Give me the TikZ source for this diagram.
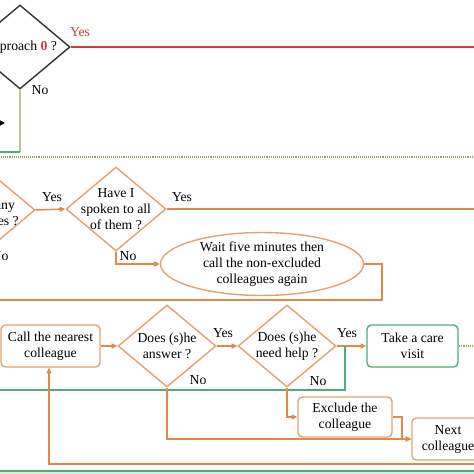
\documentclass[tikz,border=0pt]{standalone}
\usepackage{fontspec}
\setmainfont{Liberation Serif}
\usetikzlibrary{shapes.geometric,arrows.meta}

\definecolor{flow}{RGB}{226,137,74}
\definecolor{flowlight}{RGB}{226,162,112}
\definecolor{okgreen}{RGB}{76,174,120}
\definecolor{paleg}{RGB}{208,238,216}
\definecolor{alert}{RGB}{205,62,62}
\definecolor{olivedot}{RGB}{150,165,90}
\definecolor{khaki}{RGB}{205,190,150}

\tikzset{
  txt/.style={font=\fontsize{7.8}{9.1}\selectfont, align=center, inner sep=0pt},
  dia/.style={diamond, draw=flowlight, line width=0.8pt, minimum width=2cm,
              minimum height=1.68cm, inner sep=0pt},
  smalldia/.style={dia, minimum width=1.96cm, minimum height=1.64cm},
  box/.style={txt, draw=flowlight, rounded corners=2.5pt, line width=0.8pt,
              minimum height=0.84cm},
  oval/.style={ellipse, draw=flowlight, line width=0.8pt, inner sep=0pt},
  conn/.style={draw=flow, line width=0.85pt},
  arr/.style={conn, -{Triangle[length=3.2pt,width=2.8pt]}},
  greenline/.style={draw=okgreen, line width=0.9pt},
  dotline/.style={draw=olivedot, line width=0.8pt, dash pattern=on 0.55pt off 0.55pt},
}

\begin{document}
\begin{tikzpicture}[x=0.02cm, y=-0.02cm]
  \useasboundingbox (0,0) rectangle (474,474);
  \fill[white] (0,0) rectangle (474,474);
  \clip (0,0) rectangle (474,474);

  % ---- top block: approach 0 ----
  \node[dia, draw=black!80] (q0) at (20,47) {};
  \node[txt] (q0t) at (q0) {Approach \textcolor{alert}{\textbf{0}} ?};
  \coordinate (q0out) at (480,47);
  \draw[alert, line width=1.3pt] (q0.east) -- (q0out);
  \node[txt, text=alert] (q0yes) at (80,32) {Yes};
  \node[txt] (q0no) at (40,90) {No};
  \coordinate (q0turn) at (20,152);
  \coordinate (q0end) at (-5,152);
  \draw[khaki, line width=0.8pt] (q0.south) -- (q0turn);
  \draw[okgreen, line width=1pt] (q0turn) -- (q0end);
  \coordinate (inA) at (-12,123);
  \coordinate (inB) at (5,123);
  \draw[line width=0.8pt, -{Triangle[length=3pt,width=3pt]}] (inA) -- (inB);

  \coordinate (sepA) at (-5,157);
  \coordinate (sepB) at (480,157);
  \draw[dotline] (sepA) -- (sepB);

  % ---- middle block: colleagues reached ----
  \node[dia] (q1) at (-15,210) {};
  \node[txt] (q1t) at (-15,214.5) {have many\\colleagues ?};
  \node[txt] (q1no) at (0,256) {No};
  \node[dia] (q2) at (116,209) {};
  \node[txt] (q2t) at (q2) {Have I\\spoken to all\\of them ?};
  \draw[arr] (q1.east) -- (q2.west);
  \node[txt] (q1yes) at (52,197) {Yes};
  \node[txt] (q2yes) at (182,197) {Yes};
  \coordinate (q2out) at (480,209);
  \draw[conn] (q2.east) -- (q2out);
  \node[txt] (q2no) at (128,256) {No};

  \node[oval, minimum width=4.06cm, minimum height=1.26cm] (wait) at (262,264) {};
  \node[txt] (waitt) at (wait) {Wait five minutes then\\call the non-excluded\\colleagues again};
  \draw[arr] (q2.south) |- (wait.west);
  \coordinate (waitR) at (382,300);
  \coordinate (waitL) at (-5,300);
  \draw[conn] (wait.east) -| (waitR) -- (waitL);

  % ---- bottom block: calling loop ----
  \node[box, minimum width=1.98cm] (call) at (50.5,346) {Call the nearest\\colleague};
  \node[smalldia] (q3) at (167,346) {};
  \node[txt] (q3t) at (q3) {Does (s)he\\answer ?};
  \node[smalldia] (q4) at (287,346) {};
  \node[txt] (q4t) at (q4) {Does (s)he\\need help ?};
  \node[box, draw=okgreen, minimum width=1.82cm] (care) at (412.5,346) {Take a care\\visit};
  \node[box, minimum width=1.88cm, minimum height=0.8cm] (excl) at (345,417) {Exclude the\\colleague};
  \node[box, minimum width=1.44cm] (next) at (448,439) {Next\\colleague};

  \draw[arr] (call.east) -- (q3.west);
  \draw[arr] (q3.east) -- (q4.west);
  \draw[arr] (q4.east) -- (care.west);
  \node[txt] (q3yes) at (223,333) {Yes};
  \node[txt] (q3no) at (198,380) {No};
  \node[txt] (q4yes) at (347,333) {Yes};
  \node[txt] (q4no) at (318,381) {No};

  \coordinate (g1) at (345,346);
  \coordinate (g2) at (345,390);
  \coordinate (g3) at (-5,390);
  \draw[greenline] (g1) -- (g2) -- (g3);

  \coordinate (careout) at (480,346);
  \draw[dotline] (care.east) -- (careout);

  \draw[arr] (q4.south) |- (excl.west);
  \coordinate (nx) at (402,439);
  \draw[arr] (excl.east) -| (nx) -- (next.west);
  \draw[arr] (q3.south) |- (next.west);

  \coordinate (loopR) at (480,464);
  \coordinate (loopL) at (49,464);
  \draw[arr] (loopR) -- (loopL) -- (call.south -| loopL);

  % next section edge
  \fill[paleg] (-5,471) rectangle (480,480);
  \coordinate (edgeA) at (-5,471);
  \coordinate (edgeB) at (480,471);
  \draw[okgreen, line width=1.4pt] (edgeA) -- (edgeB);
\end{tikzpicture}
\end{document}
